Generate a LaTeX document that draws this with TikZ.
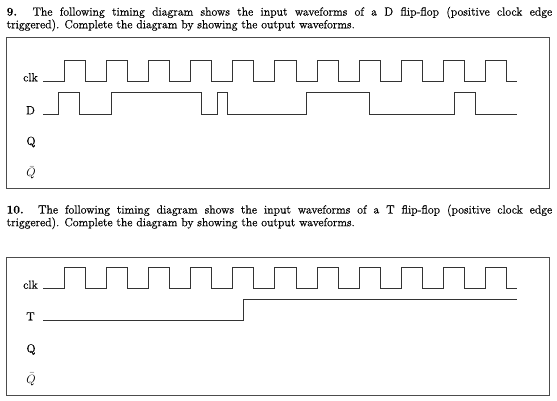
\documentclass[tikz,border=0pt]{standalone}
\usepackage{fontspec}
\newfontfamily\scanfont{Latin Modern Roman}[FakeBold=0.6]
\begin{document}
\begin{tikzpicture}[x=1pt,y=-1pt,
  wave/.style={line width=0.8pt, black!80, line join=miter},
  frame/.style={line width=1pt, black!70},
  sig/.style={font=\scanfont\fontsize{11.8}{13}\selectfont, inner sep=0pt, anchor=base},
  title/.style={font=\scanfont\fontsize{11.8}{12.7}\selectfont, inner sep=0pt, anchor=base west}]
\useasboundingbox (0,0) rectangle (557,401);

% ---------- Problem 9 ----------
\node[title] (t1a) at (6.5,15.6) {\makebox[545.5pt][s]{\textbf{9.} The following timing diagram shows the input waveforms of a D flip-flop (positive clock edge}};
\node[title] (t1b) at (6.5,28.3) {triggered). Complete the diagram by showing the output waveforms.};
\draw[frame] (6,38) rectangle (549,188);

\node[sig] (clk1) at (30.5,81.3) {clk};
\node[sig] (d1) at (30.5,114.3) {D};
\node[sig] (q1) at (31,145) {Q};
\node[sig] (qb1) at (31,176.5) {$\bar{Q}$};

\begin{scope}[xshift=43pt, x=21.08pt]
\draw[wave] (0,81.3) foreach \k in {1,3,...,21} { -- (\k,81.3) -- (\k,60.5) -- (\k+1,60.5) -- (\k+1,81.3) } -- (22.5,81.3);
\draw[wave] (0,114.3) -- (0.75,114.3) -- (0.75,92.5) -- (1.75,92.5) -- (1.75,114.3)
  -- (3.25,114.3) -- (3.25,92.5) -- (7.5,92.5) -- (7.5,114.3) -- (8.25,114.3)
  -- (8.25,92.5) -- (8.75,92.5) -- (8.75,114.3) -- (12.5,114.3) -- (12.5,92.5)
  -- (15.5,92.5) -- (15.5,114.3) -- (19.5,114.3) -- (19.5,92.5) -- (20.5,92.5)
  -- (20.5,114.3) -- (22.5,114.3);
\end{scope}

% ---------- Problem 10 ----------
\node[title] (t2a) at (6.5,213.5) {\makebox[545.5pt][s]{\textbf{10.} The following timing diagram shows the input waveforms of a T flip-flop (positive clock edge}};
\node[title] (t2b) at (6.5,226.2) {triggered). Complete the diagram by showing the output waveforms.};
\draw[frame] (6,257.5) rectangle (549,395);

\node[sig] (clk2) at (30.5,288.7) {clk};
\node[sig] (t2) at (30.5,320.3) {T};
\node[sig] (q2) at (31,352.5) {Q};
\node[sig] (qb2) at (31,383) {$\bar{Q}$};

\begin{scope}[xshift=43pt, x=21.08pt]
\draw[wave] (0,288.7) foreach \k in {1,3,...,21} { -- (\k,288.7) -- (\k,267.7) -- (\k+1,267.7) -- (\k+1,288.7) } -- (22.5,288.7);
\draw[wave] (0,320.3) -- (9.5,320.3) -- (9.5,299.3) -- (22.5,299.3);
\end{scope}
\end{tikzpicture}
\end{document}
